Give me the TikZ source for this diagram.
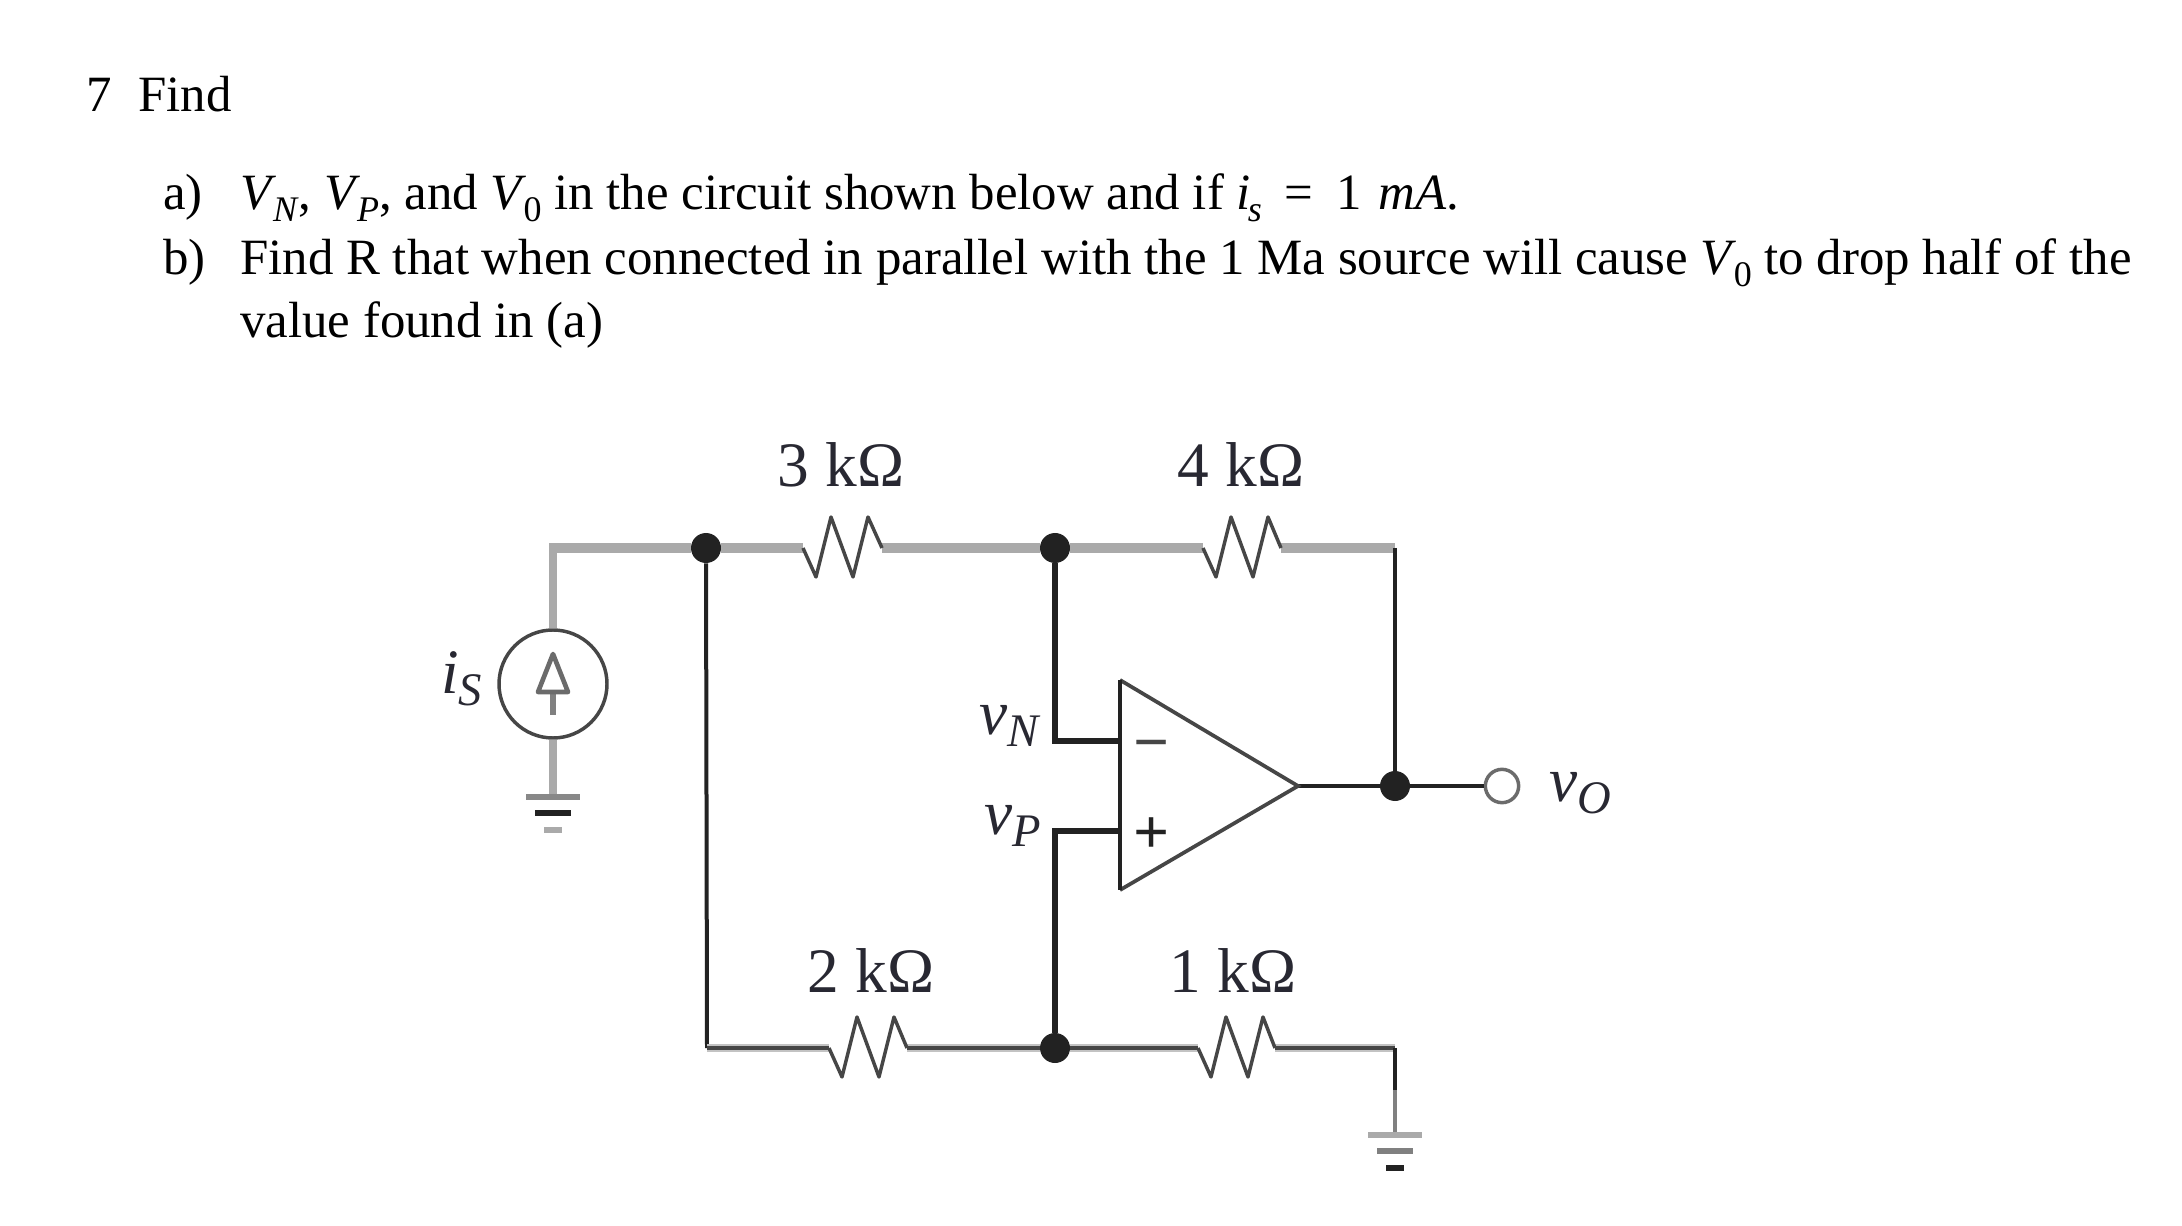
\documentclass[tikz,border=0pt]{standalone}
\usepackage{fontspec}
\setmainfont{Liberation Serif}

\definecolor{wiregray}{RGB}{170,170,170}
\definecolor{inkdark}{RGB}{34,34,34}
\definecolor{zigdark}{RGB}{70,70,70}
\definecolor{lblink}{RGB}{40,40,50}

\newcommand{\qfont}{\fontsize{38.15}{44}\selectfont}
\newcommand{\qsubfont}{\fontsize{27}{30}\selectfont}
\newcommand{\lblfont}{\fontsize{47.5}{50}\selectfont}
\newcommand{\lblsubfont}{\fontsize{35}{38}\selectfont}
\newcommand{\qsub}[2]{\textit{#1}\kern-0.06em\raisebox{-0.22em}{\qsubfont #2}}
\newcommand{\lblsub}[2]{\textit{#1}\raisebox{-0.2em}{\lblsubfont\itshape #2}}
\newcommand{\zigres}[2]{\draw [zigline] (#1) -- ++(13,29) -- ++(15,-60) -- ++(22,60) -- ++(15,-60) -- (#2) ;}
\newcommand{\gndbars}[4]{%
\draw [line width=4.5pt,color=#2] (#1) ++(-27,0) -- ++(54,0) ;
\draw [line width=4pt,color=#3] (#1) ++(-18,16) -- ++(36,0) ;
\draw [line width=4pt,color=#4] (#1) ++(-9,33) -- ++(18,0) ;}

\tikzset{
  junction/.style={circle,fill=inkdark,inner sep=0pt,minimum size=22.5pt},
  grayline/.style={color=wiregray,line width=7.5pt},
  grayvert/.style={color=wiregray,line width=5.5pt},
  blackline/.style={color=inkdark,line width=3pt},
  heavyline/.style={color=inkdark,line width=3.8pt},
  lowline/.style={color=zigdark,line width=2.6pt,preaction={draw=wiregray!70,line width=6.5pt}},
  zigline/.style={color=zigdark,line width=2.6pt,line join=round},
  qtext/.style={anchor=base west,inner sep=0pt,font=\qfont},
  lbl/.style={anchor=base,inner sep=0pt,text=lblink,font=\lblfont},
}

\begin{document}
\begin{tikzpicture}[x=0.75pt,y=0.75pt,yscale=-1,xscale=1]
\useasboundingbox (0,0) rectangle (2182,1226);

%Text lines
\node [qtext] (qnum) at (86,112) {7};
\node [qtext] (qfind) at (138,112) {Find};
\node [qtext] (qa) at (163,210) {a)};
\node [qtext] (qatext) at (240,210) {\qsub{V}{\textit{N}}, \qsub{V}{\textit{P}}, and \qsub{V}{0} in the circuit shown below and if \qsub{i}{\textit{s}}\hspace{0.2em} = \hspace{0.2em}1\hspace{0.08em} \textit{mA}.};
\node [qtext] (qb) at (163,275) {b)};
\node [qtext] (qbtext) at (240,275) {Find R that when connected in parallel with the 1 Ma source will cause \qsub{V}{0} to drop half of the};
\node [qtext] (qbmore) at (240,338) {value found in (a)};

%Junctions
\node [junction] (j1) at (706,548) {};
\node [junction] (j2) at (1055,548) {};
\node [junction] (j3) at (1055,1048) {};
\node [junction] (j4) at (1395,786) {};

%Source and output terminal
\node [circle,draw=zigdark,line width=2.6pt,inner sep=0pt,minimum size=81pt] (src) at (553,684) {};
\node [circle,draw=zigdark!80,line width=2.6pt,fill=white,inner sep=0pt,minimum size=25pt] (vout) at (1502,786) {};

%Resistor ends and corners
\coordinate (r3a) at (803,548);
\coordinate (r3b) at (882,548);
\coordinate (r4a) at (1203,548);
\coordinate (r4b) at (1281,548);
\coordinate (r2a) at (829,1048);
\coordinate (r2b) at (907,1048);
\coordinate (r1a) at (1198,1048);
\coordinate (r1b) at (1275,1048);
\coordinate (ctl) at (553,548);
\coordinate (ctr) at (1395,548);
\coordinate (cbl) at (707,1048);
\coordinate (cbr) at (1395,1048);
\coordinate (cgnd) at (1395,1090);
\coordinate (gndl) at (553,797);
\coordinate (gndr) at (1395,1135);

%Op amp corners
\coordinate (optop) at (1120,680);
\coordinate (opbot) at (1120,890);
\coordinate (opout) at (1298,786);
\coordinate (opneg) at (1120,741);
\coordinate (oppos) at (1120,831);

%Straight Lines
\draw [grayvert] (src) -- (ctl) ;
\draw [grayline,shorten <=-2.75pt] (ctl) -- (j1) ;
\draw [grayline] (j1) -- (r3a) ;
\draw [grayline] (r3b) -- (j2) ;
\draw [grayline] (j2) -- (r4a) ;
\draw [grayline] (r4b) -- (ctr) ;
\draw [grayvert] (src) -- (gndl) ;
\draw [blackline] (j1) -- (cbl) ;
\draw [heavyline] (j2) |- (opneg) ;
\draw [heavyline] (j3) |- (oppos) ;
\draw [blackline] (ctr) -- (j4) ;
\draw [blackline] (opout) -- (j4) ;
\draw [blackline] (j4) -- (vout) ;
\draw [lowline] (cbl) -- (r2a) ;
\draw [lowline] (r2b) -- (j3) ;
\draw [lowline] (j3) -- (r1a) ;
\draw [lowline] (r1b) -- (cbr) ;
\draw [blackline] (cbr) -- (cgnd) ;
\draw [line width=3pt,color=gray] (cgnd) -- (gndr) ;

%Resistors
\zigres{r3a}{r3b}
\zigres{r4a}{r4b}
\zigres{r2a}{r2b}
\zigres{r1a}{r1b}

%Op amp
\draw [color=zigdark,line width=2.8pt,line join=miter] (optop) -- (opout) -- (opbot) ;
\draw [color=inkdark,line width=3pt] (optop) -- (opbot) ;
\node [inner sep=0pt,text=zigdark,font=\lblfont\bfseries] (opminus) at (1152,752) {−};
\node [inner sep=0pt,text=inkdark,font=\lblfont\bfseries] (opplus) at (1152,836) {+};

%Source arrow
\coordinate (arrtip) at (553,654);
\coordinate (arrbase) at (553,692);
\coordinate (arrend) at (553,715);
\draw [color=gray,line width=4.5pt] (arrbase) -- (arrend) ;
\draw [color=zigdark!80,line width=3.5pt,line join=round] (arrtip) -- (538,692) -- (568,692) -- cycle ;

%Ground symbols
\gndbars{gndl}{wiregray!80!black}{inkdark}{wiregray}
\gndbars{gndr}{wiregray}{gray}{inkdark}

%Labels
\node [lbl] (l3k) at (841,487) {3 kΩ};
\node [lbl] (l4k) at (1241,487) {4 kΩ};
\node [lbl] (l2k) at (871,992) {2 kΩ};
\node [lbl] (l1k) at (1233,992) {1 kΩ};
\node [lbl,anchor=base west] (lis) at (441,693) {\lblsub{i}{S}};
\node [lbl,anchor=base west] (lvn) at (979,734) {\lblsub{v}{N}};
\node [lbl,anchor=base west] (lvp) at (984,834) {\lblsub{v}{P}};
\node [lbl,anchor=base west] (lvo) at (1549,801) {\lblsub{v}{O}};

\end{tikzpicture}
\end{document}
